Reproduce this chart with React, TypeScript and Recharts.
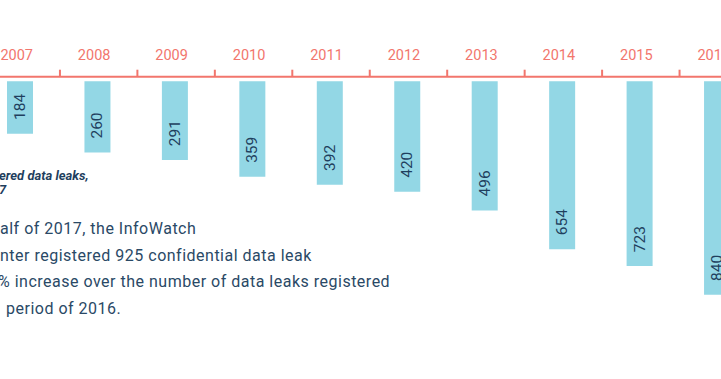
import React from 'react';
import { BarChart, Bar, XAxis, YAxis, LabelList } from 'recharts';

const years = ['2007', '2008', '2009', '2010', '2011', '2012', '2013', '2014', '2015', '2016'];
const leaks = [184, 260, 291, 359, 392, 420, 496, 654, 723, 840];

const captionLines = ['ered data leaks,', '7'];
const textLines = [
  'alf of 2017, the InfoWatch',
  'nter registered 925 confidential data leak',
  '% increase over the number of data leaks registered',
  'period of 2016.',
];

const data = years.map((year, i) => ({ year, leaks: leaks[i] }));

const SALMON = '#f2766d';
const BAR = '#93d7e5';
const NAVY = '#1f3f5e';
const FONT = 'Roboto, sans-serif';

const CHART_W = 774.5;
const CHART_H = 379;
const BAND = CHART_W / years.length;
const MARGIN = { top: 46.7, right: 0, bottom: 44.9, left: 0 };
const X_AXIS_H = 30;
const AXIS_Y = MARGIN.top + X_AXIS_H;
const Y_BASE = -30;

const YearTick = ({ x, payload }: any) => (
  <g>
    <line x1={x - BAND / 2 + 1.5} x2={x - BAND / 2 + 1.5} y1={AXIS_Y - 7} y2={AXIS_Y} stroke={SALMON} strokeWidth={2} />
    <text x={x - 3} y={AXIS_Y - 17} textAnchor="middle" fill={SALMON} fontSize={14.5} fontFamily={FONT}>
      {payload.value}
    </text>
  </g>
);

const ValueLabel = ({ x, y, width, height, value }: any) => {
  const v = Array.isArray(value) ? value[1] : value;
  const cx = x + width / 2;
  const bottom = Math.max(y, y + height);
  const cy = bottom - 27;
  return (
    <text
      x={cx}
      y={cy}
      transform={`rotate(-90 ${cx} ${cy})`}
      textAnchor="middle"
      dominantBaseline="central"
      fill={NAVY}
      fontSize={15.5}
      fontFamily={FONT}
    >
      {v}
    </text>
  );
};

const App: React.FC = () => {
  return (
    <div style={{ position: 'absolute', left: 0, top: 0, width: 721, height: 379, overflow: 'hidden', background: '#fff' }}>
      <div style={{ position: 'absolute', left: -19.2, top: 0 }}>
        <BarChart width={CHART_W} height={CHART_H} data={data} margin={MARGIN}>
          <XAxis
            dataKey="year"
            orientation="top"
            height={X_AXIS_H}
            interval={0}
            tickLine={false}
            axisLine={{ stroke: SALMON, strokeWidth: 2 }}
            tick={<YearTick />}
          />
          <YAxis hide reversed type="number" domain={[Y_BASE, 1000]} padding={{ top: 4.6, bottom: 0 }} />
          <Bar
            dataKey={(d: any) => [Y_BASE, d.leaks]}
            fill={BAR}
            barSize={26}
            isAnimationActive={false}
          >
            <LabelList dataKey="leaks" content={<ValueLabel />} />
          </Bar>
        </BarChart>
      </div>
      <svg width={721} height={379} style={{ position: 'absolute', left: 0, top: 0 }}>
        {captionLines.map((line, i) => (
          <text
            key={line}
            x={-1}
            y={180 + i * 13.5}
            fill={NAVY}
            fontSize={13}
            fontWeight={700}
            fontStyle="italic"
            fontFamily={FONT}
          >
            {line}
          </text>
        ))}
        {textLines.map((line, i) => (
          <text
            key={line}
            x={i === 2 ? -2 : i === 3 ? 6 : 0}
            y={234 + i * 26.7}
            fill="#2a4966"
            fontSize={16}
            letterSpacing={0.5}
            fontFamily={FONT}
          >
            {line}
          </text>
        ))}
      </svg>
    </div>
  );
};

export default App;
